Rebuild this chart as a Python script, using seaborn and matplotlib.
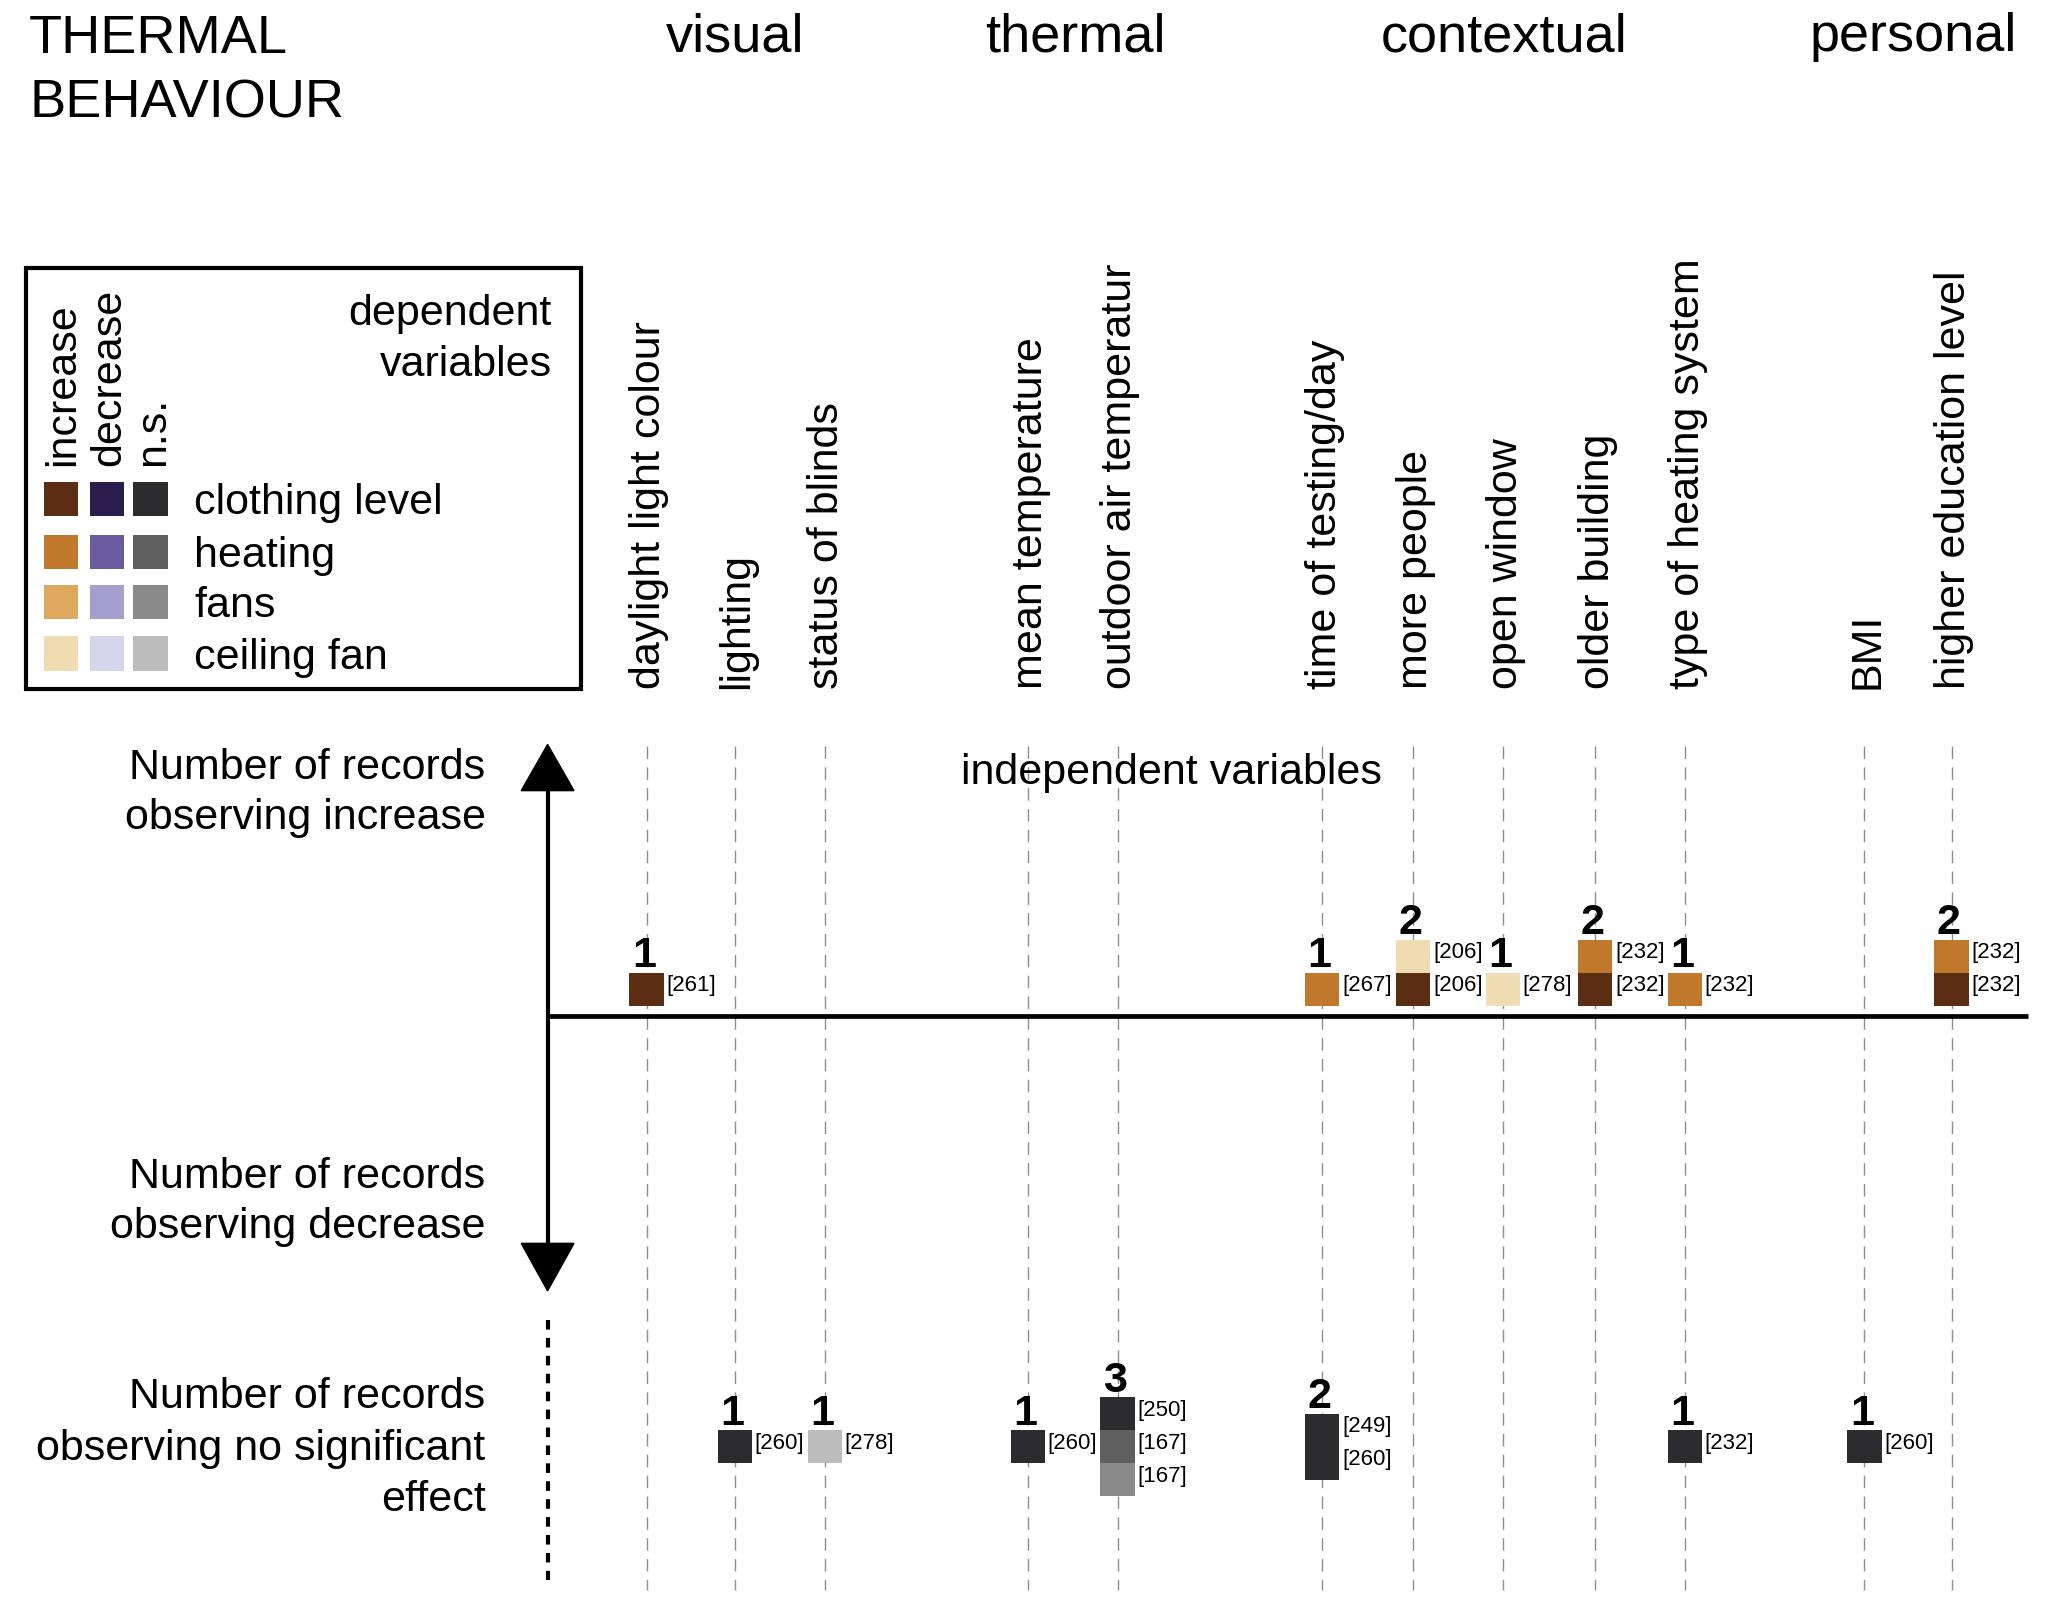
import numpy as np
import pandas as pd
import matplotlib
matplotlib.use("Agg")
import matplotlib.pyplot as plt
from matplotlib.patches import Rectangle, Polygon
import seaborn as sns

# ---------------- data ----------------
GROUPS = ["visual", "thermal", "contextual", "personal"]
INDEPENDENT = ["daylight light colour", "lighting", "status of blinds",
               "mean temperature", "outdoor air temperatur",
               "time of testing/day", "more people", "open window",
               "older building", "type of heating system",
               "BMI", "higher education level"]
DEPENDENT = ["clothing level", "heating", "fans", "ceiling fan"]
EFFECTS = ["increase", "decrease", "n.s."]

# records observing an increase
INC_VAR = ["daylight light colour", "time of testing/day", "more people", "more people",
           "open window", "older building", "older building", "type of heating system",
           "higher education level", "higher education level"]
INC_DEP = ["clothing level", "heating", "clothing level", "ceiling fan",
           "ceiling fan", "clothing level", "heating", "heating",
           "clothing level", "heating"]
INC_REF = ["[261]", "[267]", "[206]", "[206]", "[278]", "[232]", "[232]", "[232]", "[232]", "[232]"]

# records observing no significant effect
NS_VAR = ["lighting", "status of blinds", "mean temperature",
          "outdoor air temperatur", "outdoor air temperatur", "outdoor air temperatur",
          "time of testing/day", "time of testing/day", "type of heating system", "BMI"]
NS_DEP = ["clothing level", "ceiling fan", "clothing level",
          "clothing level", "heating", "fans",
          "clothing level", "clothing level", "clothing level", "clothing level"]
NS_REF = ["[260]", "[278]", "[260]", "[250]", "[167]", "[167]", "[249]", "[260]", "[232]", "[260]"]

COLORS = {
    "increase": ["#5b2e14", "#c0782c", "#dea85e", "#f0dcb2"],
    "decrease": ["#2a1c4c", "#6a5aa0", "#a59fcd", "#d4d4ea"],
    "n.s.":     ["#2c2c2e", "#5f5f5f", "#8a8a8a", "#bcbcbc"],
}

# ---------------- layout (reference pixel grid) ----------------
W, H = 1568, 1216
UNIT = 25.0          # pixels per record
BASE = 762.0         # baseline of the increase stacks
NS_CENTER = 1096.0   # centre of the n.s. stacks
COL_X = [490, 557, 625, 779, 847, 1002, 1071, 1139, 1209, 1277, 1413, 1479]
GROUP_X = [557, 815, 1140, 1450]
BAR_W = 26


def Y(py):
    return (BASE - py) / UNIT


sns.set_theme(style="white")
plt.rcParams["font.family"] = ["Liberation Sans", "DejaVu Sans"]
plt.rcParams["text.color"] = "black"

fig = plt.figure(figsize=(20.69, 16.05), dpi=100)
ax = fig.add_axes([0, 0, 1, 1])
ax.set_xlim(0, W)
ax.set_ylim(Y(H), Y(0))
ax.axis("off")

BIG = 39
MID = 31
SMALL = 16

# titles
ax.text(22, Y(40), "THERMAL", fontsize=BIG, va="baseline", ha="left")
ax.text(22, Y(89), "BEHAVIOUR", fontsize=BIG, va="baseline", ha="left")
for g, gx in zip(GROUPS, GROUP_X):
    ax.text(gx, Y(39), g, fontsize=BIG, va="baseline", ha="center")

# column headers and dashed guide lines
for name, cx in zip(INDEPENDENT, COL_X):
    ax.text(cx + 2, Y(522), name, rotation=90, ha="center", va="bottom", fontsize=MID)
    ax.plot([cx, cx], [Y(565), Y(1205)], color="#8e8e8e", lw=1.0,
            linestyle=(0, (9, 6)), zorder=1)

ax.text(888, Y(594), "independent variables", fontsize=MID, ha="center", va="baseline")

# legend box
ax.add_patch(Rectangle((20, Y(522)), 420, Y(203) - Y(522), fill=False,
                       edgecolor="black", lw=3.0, zorder=3))
ax.text(418, Y(246), "dependent", fontsize=MID, ha="right", va="baseline")
ax.text(418, Y(285), "variables", fontsize=MID, ha="right", va="baseline")
LEG_X = [46, 81, 114]
LEG_Y = [378, 418, 456, 495]
for e, lx in zip(EFFECTS, LEG_X):
    ax.text(lx + 2, Y(353), e, rotation=90, ha="center", va="bottom", fontsize=MID)
leg_rows = []
for i, d in enumerate(DEPENDENT):
    ax.text(147, Y(LEG_Y[i]), d, fontsize=MID, ha="left", va="center_baseline")
    for j, e in enumerate(EFFECTS):
        leg_rows.append({"x": LEG_X[j], "y": Y(LEG_Y[i]), "key": f"{e}|{d}",
                         "color": COLORS[e][i]})
leg_df = pd.DataFrame(leg_rows)
sns.scatterplot(data=leg_df, x="x", y="y", hue="key",
                palette=dict(zip(leg_df["key"], leg_df["color"])),
                marker="s", s=610, linewidth=0, legend=False, ax=ax, zorder=4)

# axes: arrow and baseline
ax.plot([415, 415], [Y(596), Y(944)], color="black", lw=3.0, solid_capstyle="butt")
ax.add_patch(Polygon([[415, Y(564)], [395, Y(599)], [435, Y(599)]], closed=True,
                     color="black"))
ax.add_patch(Polygon([[415, Y(978)], [395, Y(942)], [435, Y(942)]], closed=True,
                     color="black"))
ax.plot([415, 1537], [Y(770), Y(770)], color="black", lw=3.4, solid_capstyle="butt")
ax.plot([415, 415], [Y(1000), Y(1197)], color="black", lw=3.0,
        linestyle=(0, (2.3, 2.0)))

# side labels
ax.text(368, Y(590), "Number of records", fontsize=MID, ha="right", va="baseline")
ax.text(368, Y(628), "observing increase", fontsize=MID, ha="right", va="baseline")
ax.text(368, Y(900), "Number of records", fontsize=MID, ha="right", va="baseline")
ax.text(368, Y(938), "observing decrease", fontsize=MID, ha="right", va="baseline")
ax.text(368, Y(1067), "Number of records", fontsize=MID, ha="right", va="baseline")
ax.text(368, Y(1106), "observing no significant", fontsize=MID, ha="right", va="baseline")
ax.text(368, Y(1145), "effect", fontsize=MID, ha="right", va="baseline")

# ---------------- bars ----------------
inc = pd.DataFrame({"var": INC_VAR, "dep": INC_DEP, "ref": INC_REF})
ns = pd.DataFrame({"var": NS_VAR, "dep": NS_DEP, "ref": NS_REF})
xpos = dict(zip(INDEPENDENT, COL_X))
dep_idx = {d: i for i, d in enumerate(DEPENDENT)}

# increase: stacked upward from the baseline, dependent order bottom -> top
for var, grp in inc.groupby("var", sort=False):
    grp = grp.assign(o=grp["dep"].map(dep_idx)).sort_values("o", kind="stable")
    x = xpos[var]
    bottom = 0.0
    for _, r in grp.iterrows():
        ax.bar(x, 1.0, bottom=bottom, width=BAR_W,
               color=COLORS["increase"][dep_idx[r["dep"]]], linewidth=0, zorder=3)
        ax.text(x + 15, bottom + 0.6, r["ref"], fontsize=SMALL, ha="left",
                va="center", zorder=4)
        bottom += 1.0
    ax.text(x - 2, bottom + 0.17, str(len(grp)), fontsize=MID, fontweight="bold",
            ha="center", va="baseline", zorder=4)

# no significant effect: stacks centred on a common level, top -> bottom
ns_c = Y(NS_CENTER)
for var, grp in ns.groupby("var", sort=False):
    grp = grp.assign(o=grp["dep"].map(dep_idx)).sort_values("o", kind="stable")
    x = xpos[var]
    n = len(grp)
    top = ns_c + n / 2.0
    for k, (_, r) in enumerate(grp.iterrows()):
        b = top - (k + 1)
        ax.bar(x, 1.0, bottom=b, width=BAR_W,
               color=COLORS["n.s."][dep_idx[r["dep"]]], linewidth=0, zorder=3)
        ax.text(x + 15, b + 0.6, r["ref"], fontsize=SMALL, ha="left",
                va="center", zorder=4)
    ax.text(x - 2, top + 0.17, str(n), fontsize=MID, fontweight="bold",
            ha="center", va="baseline", zorder=4)

fig.savefig("out.png", dpi=100, facecolor="white")
